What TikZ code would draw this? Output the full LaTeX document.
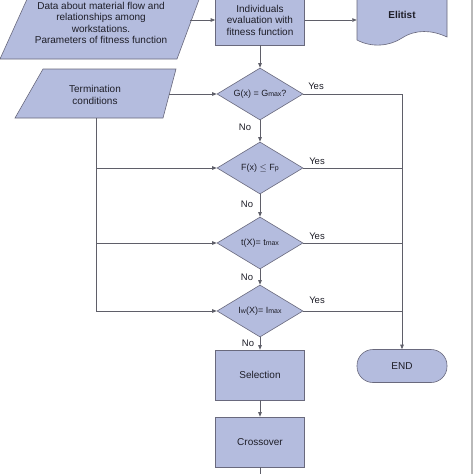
\documentclass[tikz,border=0pt]{standalone}
\usepackage{fontspec}
\setmainfont{Liberation Sans}
\usetikzlibrary{shapes.geometric,arrows.meta}
\definecolor{fillc}{RGB}{180,188,222}
\definecolor{linec}{RGB}{95,95,105}
\definecolor{edgec}{RGB}{105,105,125}
\definecolor{txtc}{RGB}{30,30,40}
\newcommand{\lowsub}[1]{{\fontsize{7}{8}\selectfont\raisebox{-0.6pt}{#1}}}
\begin{document}
\begin{tikzpicture}[x=1pt,y=-1pt,
  font=\fontsize{10}{11.5}\selectfont, text=txtc,
  shapebox/.style={draw=edgec, fill=fillc, line width=0.6pt},
  proc/.style={shapebox, rectangle, minimum width=89pt, minimum height=50pt, inner sep=0pt, align=center},
  dec/.style={shapebox, diamond, minimum width=86pt, minimum height=52pt, inner sep=0pt, aspect=1.65, font=\fontsize{9}{10}\selectfont},
  conn/.style={draw=linec, line width=0.7pt},
  arr/.style={conn, -{Triangle[length=4.5pt,width=3.5pt]}},
  lab/.style={font=\fontsize{9.5}{10}\selectfont, inner sep=0pt}]
\useasboundingbox (0,0) rectangle (474,474);
\clip (0,0) rectangle (474,474);
\fill[white] (0,0) rectangle (474,474);
% right border stripe
\draw[gray!55, line width=2pt] (472,0) -- (472,474);

% input parallelograms
\filldraw[shapebox] (0,59) -- (177,59) -- (200,-3) -- (28,-3) -- cycle;
\node[align=center, inner sep=0pt] (data) at (101,23) {Data about material flow and\\relationships among\\workstations.\\Parameters of fitness function};
\coordinate (dataR) at (190,20);

\filldraw[shapebox] (15,118) -- (163,118) -- (176,69) -- (43,69) -- cycle;
\node[align=center, inner sep=0pt] (term) at (95,95) {Termination\\conditions};
\coordinate (termR) at (169,94);
\coordinate (termB) at (96,118);

% process boxes
\node[proc] (indiv) at (260,20) {Individuals\\evaluation with\\fitness function};
\node[proc] (sel) at (260,375) {Selection};
\node[proc] (cross) at (260,442) {Crossover};
\coordinate (bottom) at (260,480);

% document (Elitist)
\filldraw[shapebox] (357,-8) -- (447,-8) -- (447,37)
  .. controls (432,30) and (416,29) .. (402,38)
  .. controls (390,46) and (372,48) .. (357,40) -- cycle;
\node[minimum width=90pt, minimum height=46pt, inner sep=0pt, font=\fontsize{10}{11.5}\selectfont\bfseries] (elitist) at (402,15) {Elitist};

% decisions
\node[dec] (G) at (260,94) {G(x) = G\lowsub{max}?};
\node[dec] (F) at (260,168) {F(x) $\leq$ F\lowsub{p}};
\node[dec] (T) at (260,243) {t(X)= t\lowsub{max}};
\node[dec] (I) at (260,311) {I\lowsub{w}(X)= I\lowsub{max}};

% END terminator
\node[shapebox, rectangle, rounded corners=16pt, minimum width=90pt, minimum height=33pt] (end) at (402,366) {END};

% connectors
\draw[arr] (dataR) -- (indiv.west);
\draw[arr] (indiv.east) -- (indiv.east -| elitist.west);
\draw[arr] (indiv.south) -- (G.north);
\draw[arr] (termR) -- (G.west);
\draw[conn] (termB) -- (termB |- I.west);
\draw[arr] (termB |- F.west) -- (F.west);
\draw[arr] (termB |- T.west) -- (T.west);
\draw[arr] (termB |- I.west) -- (I.west);

\draw[arr] (G.south) -- (F.north);
\draw[arr] (F.south) -- (T.north);
\draw[arr] (T.south) -- (I.north);
\draw[arr] (I.south) -- (sel.north);
\draw[arr] (sel.south) -- (cross.north);
\draw[conn] (cross.south) -- (bottom);

\draw[arr] (G.east) -| (end.north);
\draw[conn] (F.east) -- (F.east -| end.north);
\draw[conn] (T.east) -- (T.east -| end.north);
\draw[conn] (I.east) -- (I.east -| end.north);

% labels
\node[lab] at (316,86) {Yes};
\node[lab] at (317,161) {Yes};
\node[lab] at (317,236) {Yes};
\node[lab] at (317,300) {Yes};
\node[lab] at (245,127) {No};
\node[lab] at (247,204) {No};
\node[lab] at (247,277) {No};
\node[lab] at (248,343) {No};
\end{tikzpicture}
\end{document}
